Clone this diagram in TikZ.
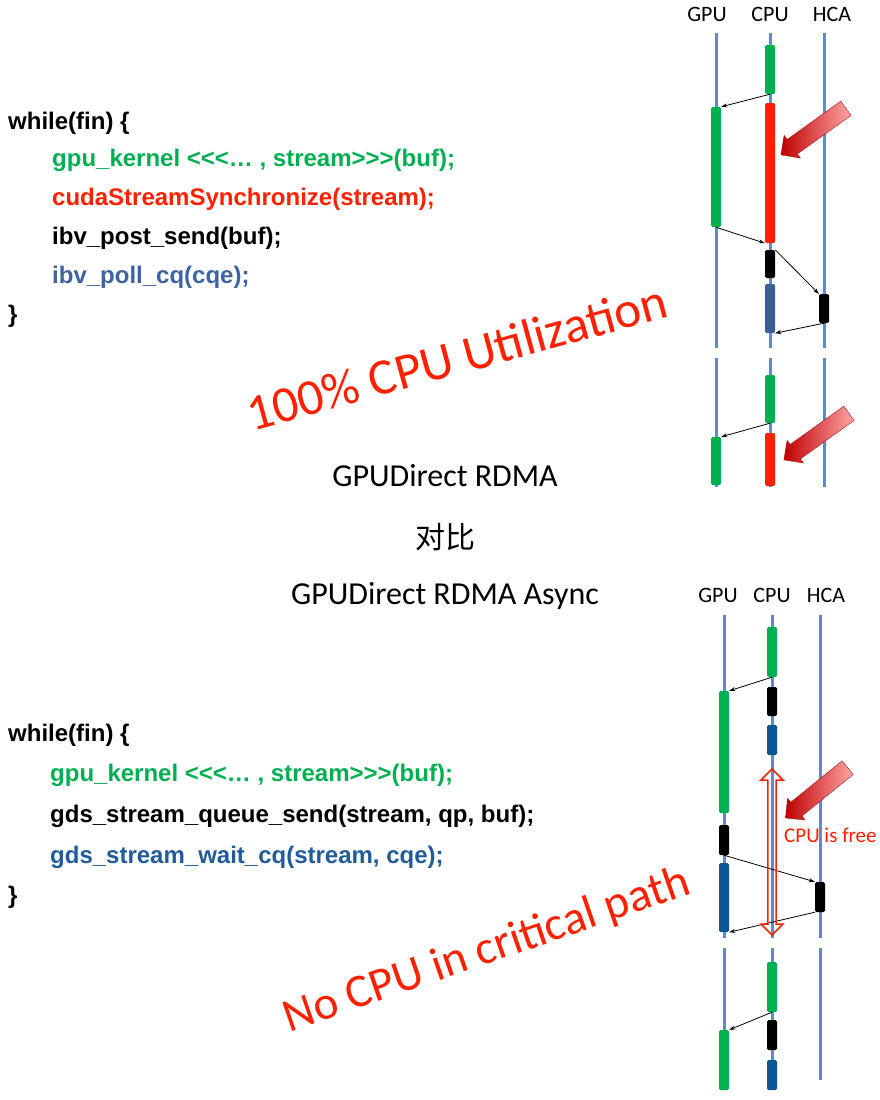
\documentclass[tikz,border=0pt]{standalone}
\usepackage{fontspec}
\setmainfont{Carlito}
\newfontfamily\codef{Liberation Sans}
\newfontfamily\cjk{Noto Sans CJK SC}
\usetikzlibrary{shapes.arrows,arrows.meta}
\definecolor{g}{HTML}{00B050}
\definecolor{r}{HTML}{FF2000}
\definecolor{ln}{HTML}{5B8BD0}
\definecolor{b1}{HTML}{3A5F94}
\definecolor{b2}{HTML}{0F5596}
\definecolor{cb1}{HTML}{3C64A0}
\definecolor{cb2}{HTML}{1F5C99}
\tikzset{
 lane/.style={ln, line width=3pt},
 blk/.style={rectangle, rounded corners=1.5pt, minimum width=10pt, inner sep=0pt},
 msg/.style={-{Stealth[length=6pt,width=4pt]}, line width=0.8pt},
 code/.style={anchor=base west, font=\codef\bfseries\fontsize{24}{28}\selectfont, inner sep=0pt},
 lbl/.style={font=\fontsize{22}{26}\selectfont, inner sep=0pt},
 mid/.style={font=\fontsize{32}{36}\selectfont, inner sep=0pt},
 big/.style={text=r, inner sep=0pt},
 fat/.style={single arrow, minimum height=80pt, minimum width=28pt, single arrow head extend=3pt, inner sep=5pt, left color=red!75!black, right color=red!35!white, draw=red!60!black, line width=0.3pt}
}
\newcommand{\blkat}[5]{\node[blk, fill=#1, minimum height=#4-#3] (#5) at (#2,{(#3+#4)/2}) {};}
\begin{document}
\begin{tikzpicture}[x=1pt,y=-1pt]
\useasboundingbox (0,0) rectangle (880,1100);
% ---------- top code
\node[code] (t0) at (8,129) {while(fin) \{};
\node[code, text=g] (t1) at (52,166) {gpu\_kernel <<<… , stream>>>(buf);};
\node[code, text=r] (t2) at (52,205) {cudaStreamSynchronize(stream);};
\node[code] (t3) at (52,244) {ibv\_post\_send(buf);};
\node[code, text=cb1] (t4) at (52,283) {ibv\_poll\_cq(cqe);};
\node[code] (t5) at (8,322) {\}};
\node[big, rotate=15.3, font=\fontsize{51}{56}\selectfont] (u1) at (457,357) {100\% CPU Utilization};
% ---------- middle
\node[mid] (m1) at (445,476) {GPUDirect RDMA};
\node[mid] (m2) at (445,537) {\cjk\fontsize{30}{34}\selectfont 对比};
\node[mid] (m3) at (445,596) {GPUDirect RDMA Async};
% ---------- top diagram
\node[lbl] (hg1) at (707,14) {GPU};
\node[lbl] (hc1) at (770,14) {CPU};
\node[lbl] (hh1) at (832,14) {HCA};
\foreach \x in {716,770,824}{\draw[lane] (\x,33) -- (\x,348); \draw[lane] (\x,358) -- (\x,487);}
\blkat{g}{770}{45}{94}{a1}
\blkat{g}{716}{107}{227}{a2}
\blkat{r}{770}{103}{243}{a3}
\blkat{black}{770}{250}{278}{a4}
\blkat{b1}{770}{284}{333}{a5}
\blkat{black}{824}{294}{323}{a6}
\blkat{g}{770}{375}{423}{a7}
\blkat{g}{716}{437}{485}{a8}
\blkat{r}{770}{433}{486}{a9}
\draw[msg] (a1.south) -- (a2.north east);
\draw[msg] (a2.south) -- (a3.south west);
\draw[msg] (a4.north east) -- (a6.north west);
\draw[msg] (a6.south) -- (a5.south east);
\draw[msg] (a7.south) -- (a8.north east);
\node[fat, rotate=215.6] (f1) at (817,129) {};
\node[fat, rotate=215.6] (f2) at (820,434) {};
% ---------- bottom code
\node[code] (s0) at (8,741) {while(fin) \{};
\node[code, text=g] (s1) at (50,781) {gpu\_kernel <<<… , stream>>>(buf);};
\node[code] (s2) at (50,822) {gds\_stream\_queue\_send(stream, qp, buf);};
\node[code, text=cb2] (s3) at (50,863) {gds\_stream\_wait\_cq(stream, cqe);};
\node[code] (s4) at (8,903) {\}};
\node[big, rotate=19, font=\fontsize{47}{52}\selectfont] (u2) at (487,951) {No CPU in critical path};
% ---------- bottom diagram
\node[lbl] (hg2) at (718,595) {GPU};
\node[lbl] (hc2) at (772,595) {CPU};
\node[lbl] (hh2) at (826,595) {HCA};
\foreach \x in {724,772,820}{\draw[lane] (\x,615) -- (\x,938); \draw[lane] (\x,948) -- (\x,1080);}
\blkat{g}{772}{627}{677}{c1}
\blkat{black}{772}{687}{716}{c2}
\blkat{b2}{772}{725}{755}{c3}
\blkat{g}{724}{691}{813}{c4}
\blkat{black}{724}{825}{855}{c5}
\blkat{b2}{724}{863}{932}{c6}
\blkat{black}{820}{882}{912}{c7}
\blkat{g}{772}{962}{1012}{c8}
\blkat{g}{724}{1030}{1090}{c9}
\blkat{black}{772}{1020}{1050}{c10}
\blkat{b2}{772}{1060}{1090}{c11}
\draw[msg] (c1.south) -- (c4.north east);
\draw[msg] (c5.south) -- (c7.north west);
\draw[msg] (c7.south west) -- (c6.south east);
\draw[msg] (c8.south) -- (c9.north east);
\node[double arrow, draw=r, line width=1.5pt, rotate=90, minimum height=166pt, minimum width=22pt, inner sep=3pt, double arrow head extend=6pt] (dd) at (772,852) {};
\node[fat, rotate=219] (f3) at (820,790) {};
\node[anchor=west, text=r, font=\fontsize{21}{24}\selectfont, inner sep=0pt] (free) at (784,835) {CPU is free};
\end{tikzpicture}
\end{document}
